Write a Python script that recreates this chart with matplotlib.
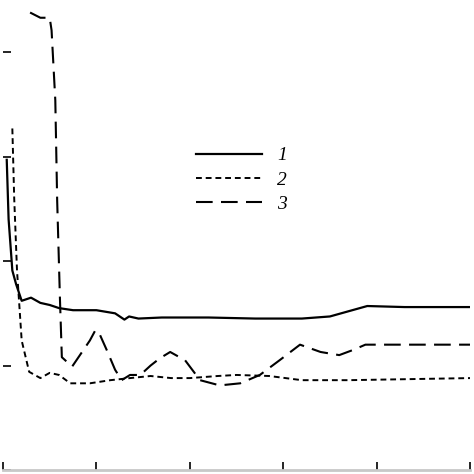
import matplotlib
matplotlib.use('Agg')
import matplotlib.pyplot as plt

# curva 1 (continua)
x1 = [0.04, 0.06, 0.1, 0.14, 0.2, 0.3, 0.4, 0.5, 0.6, 0.75, 1.0, 1.2, 1.3, 1.35, 1.45, 1.7, 2.2, 2.7, 3.2, 3.5, 3.7, 3.9, 4.3, 5.0]
y1 = [2.97, 2.4, 1.91, 1.78, 1.62, 1.65, 1.6, 1.58, 1.55, 1.53, 1.53, 1.5, 1.44, 1.47, 1.45, 1.46, 1.46, 1.45, 1.45, 1.47, 1.52, 1.57, 1.56, 1.56]

# curva 2 (guiones cortos)
x2 = [0.1, 0.12, 0.15, 0.2, 0.28, 0.4, 0.5, 0.6, 0.72, 0.93, 1.15, 1.36, 1.58, 1.8, 2.0, 2.3, 2.5, 2.85, 3.2, 3.7, 5.0]
y2 = [3.27, 2.6, 1.91, 1.24, 0.94, 0.88, 0.93, 0.91, 0.83, 0.83, 0.86, 0.88, 0.90, 0.88, 0.88, 0.90, 0.91, 0.90, 0.86, 0.86, 0.88]

# curva 3 (guiones largos)
x3 = [0.29, 0.4, 0.5, 0.52, 0.56, 0.58, 0.61, 0.63, 0.74, 0.93, 0.99, 1.04, 1.11, 1.2, 1.27, 1.36, 1.47, 1.58, 1.68, 1.79, 1.95, 2.11, 2.32, 2.54, 2.75, 2.96, 3.18, 3.4, 3.6, 3.75, 3.88, 5.0]
y3 = [4.38, 4.33, 4.33, 4.21, 3.54, 2.58, 1.63, 1.08, 0.99, 1.24, 1.34, 1.29, 1.15, 0.96, 0.86, 0.91, 0.91, 1.0, 1.07, 1.13, 1.05, 0.86, 0.81, 0.83, 0.91, 1.05, 1.2, 1.13, 1.10, 1.15, 1.2, 1.2]

labels = ['1', '2', '3']

fig = plt.figure(figsize=(4.74, 4.74), dpi=100)
ax = fig.add_axes([3 / 474, 4 / 474, 467 / 474, 470 / 474])

ax.plot(x1, y1, color='black', lw=1.6, label=labels[0])
ax.plot(x2, y2, color='black', lw=1.4, dashes=(3, 2), label=labels[1])
ax.plot(x3, y3, color='black', lw=1.5, dashes=(8, 4), label=labels[2])

ax.set_xlim(0, 5)
ax.set_ylim(0, 4.5)
ax.set_xticks([0, 1, 2, 3, 4, 5])
ax.set_yticks([0, 1, 2, 3, 4])
ax.tick_params(direction='in', length=6, width=1.2, labelleft=False, labelbottom=False)
for s in ['top', 'right', 'left']:
    ax.spines[s].set_visible(False)
ax.spines['bottom'].set_color('#c8c8c8')
ax.spines['bottom'].set_linewidth(2)

ax.legend(loc='upper left', bbox_to_anchor=(0.375, 0.725), frameon=False,
          handlelength=3.4, handletextpad=0.8, labelspacing=0.35,
          prop={'family': 'Liberation Serif', 'style': 'italic', 'size': 14})

plt.savefig('out.png', dpi=100)
